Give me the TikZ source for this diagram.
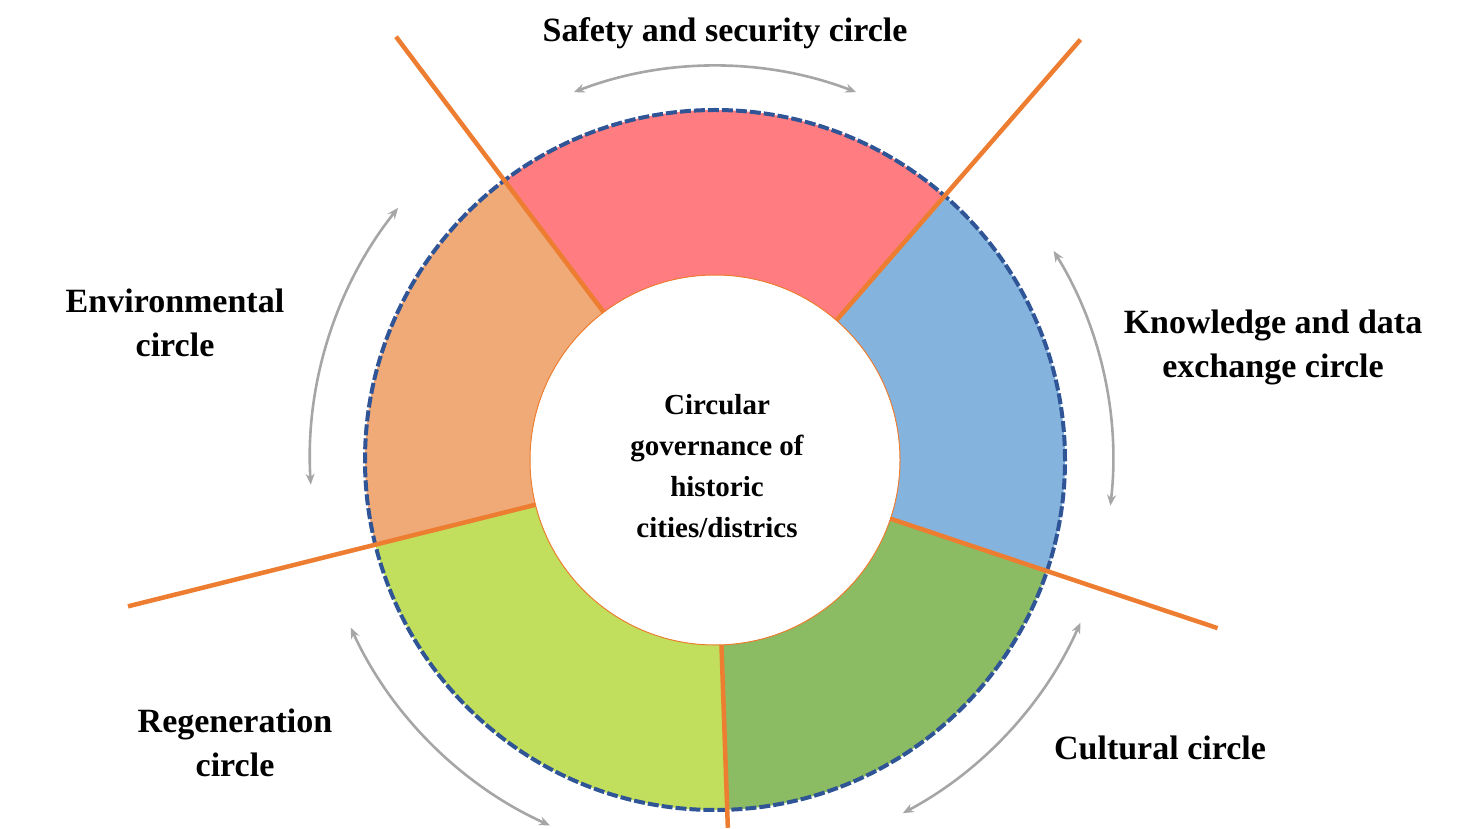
\documentclass[tikz,border=0pt]{standalone}
\usepackage{fontspec}
\setmainfont{Liberation Serif}
\usetikzlibrary{arrows.meta}
\definecolor{segred}{HTML}{FF7C80}
\definecolor{segblue}{HTML}{84B3DE}
\definecolor{segdg}{HTML}{8BBB63}
\definecolor{seglg}{HTML}{C1DE5D}
\definecolor{segor}{HTML}{F0AA78}
\definecolor{divor}{HTML}{ED7D31}
\definecolor{rimblue}{HTML}{2F5597}
\definecolor{arrgray}{HTML}{A6A6A6}
\begin{document}
\begin{tikzpicture}[x=1pt,y=1pt,
  lbl/.style={font=\fontsize{34}{44}\selectfont\bfseries,align=center},
  ctr/.style={font=\fontsize{29}{41}\selectfont\bfseries,align=center},
  divider/.style={draw=divor,line width=4.5pt},
  cyc/.style={draw=arrgray,line width=2.6pt,<->,>={Stealth[length=11pt,width=9pt]}}]
\useasboundingbox (0,0) rectangle (1470,828);
\begin{scope}[shift={(715,368)}]
\foreach \a/\b/\c in {49/127/segred,-18.5/49/segblue,-88/-18.5/segdg,-166/-88/seglg,127/194/segor}{
  \fill[\c] (\a:350) arc[start angle=\a,end angle=\b,radius=350] -- (\b:185) arc[start angle=\b,end angle=\a,radius=185] -- cycle;
}
\draw[rimblue,line width=4pt,dash pattern=on 11pt off 3pt] (0,0) circle[radius=350];
\draw[divor,line width=1pt] (0,0) circle[radius=185];
\fill[white] (0,0) circle[radius=184];
\draw[divider] (127:185) -- (127:530);
\draw[divider] (49:185) -- (49:557);
\draw[divider] (-18.5:185) -- (-18.5:530);
\draw[divider] (-88:185) -- (-88:368);
\draw[divider] (194:185) -- (194:605);
\draw[cyc] (111:394) arc[start angle=111,end angle=69,radius=394];
\draw[cyc] (31.7:398) arc[start angle=31.7,end angle=-6.6,radius=398];
\draw[cyc] (-24:400) arc[start angle=-24,end angle=-62,radius=400];
\draw[cyc] (204.7:401) arc[start angle=204.7,end angle=245.7,radius=401];
\draw[cyc] (141.5:405) arc[start angle=141.5,end angle=183.5,radius=405];
\end{scope}
\node[lbl] (safety) at (725,795) {Safety and security circle};
\node[lbl] (env) at (175,505) {Environmental\\circle};
\node[lbl] (know) at (1273,481) {Knowledge and data\\exchange circle};
\node[lbl] (regen) at (235,85) {Regeneration\\circle};
\node[lbl] (cult) at (1160,80) {Cultural circle};
\node[ctr] (center) at (717,362) {Circular\\governance of\\historic\\cities/districs};
\end{tikzpicture}
\end{document}
